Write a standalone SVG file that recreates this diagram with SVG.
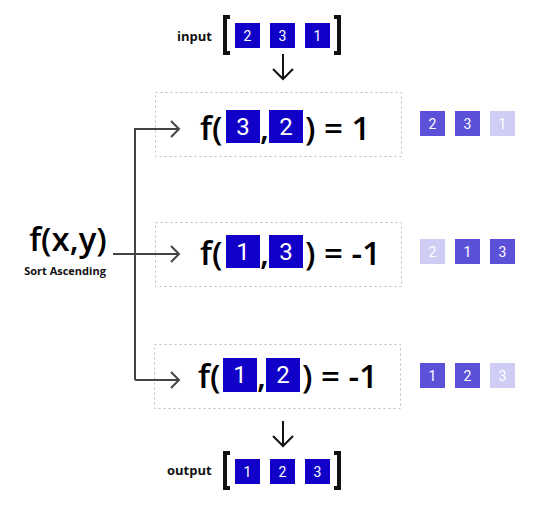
<svg xmlns="http://www.w3.org/2000/svg" width="535" height="510" viewBox="0 0 535 510">
<style>
.bg{fill:#ffffff}
.frame{fill:none;stroke:#bdbdbd;stroke-width:1;stroke-dasharray:2 3}
.b{fill:#1000c8}
.m{fill:#5b50d8}
.l{fill:#d0cdf4}
.bt{font-family:Roboto,"Liberation Sans",sans-serif;font-size:24px;fill:#ffffff;text-anchor:middle}
.st{font-family:Roboto,"Liberation Sans",sans-serif;font-size:14px;fill:#ffffff;text-anchor:middle}
.fx{font-family:"Open Sans","Noto Sans",sans-serif;font-weight:600;font-size:33px;fill:#000000}
.lab{font-family:"Open Sans","Noto Sans",sans-serif;font-weight:700;font-size:13px;fill:#111111}
.brk{fill:none;stroke:#111111;stroke-width:4}
.con{fill:none;stroke:#444444;stroke-width:2}
.dn{fill:none;stroke:#111111;stroke-width:2}
</style>
<rect class="bg" x="0" y="0" width="535" height="510"/>

<g id="input">
<text class="lab" x="177" y="41">input</text>
<path class="brk" d="M230,17 H225 V53 H230"/>
<path class="brk" d="M334,17 H339 V53 H334"/>
<rect class="b" x="235" y="23" width="25" height="25"/><text class="st" x="247.5" y="40.5">2</text>
<rect class="b" x="270" y="23" width="25" height="25"/><text class="st" x="282.5" y="40.5">3</text>
<rect class="b" x="305" y="23" width="25" height="25"/><text class="st" x="317.5" y="40.5">1</text>
</g>

<g id="fxy">
<text class="fx" x="68" y="251" text-anchor="middle">f(x,y)</text>
<text class="lab" x="65" y="275" text-anchor="middle" style="font-size:11px">Sort Ascending</text>
</g>

<g id="row1">
<rect class="frame" x="155.5" y="92.5" width="246" height="64"/>
<text class="fx" x="200" y="140">f(</text>
<rect class="b" x="226" y="110" width="34" height="33"/><text class="bt" x="243" y="135">3</text>
<text class="fx" x="260" y="140">,</text>
<rect class="b" x="269" y="110" width="34" height="33"/><text class="bt" x="286" y="135">2</text>
<text class="fx" x="305" y="140">) = 1</text>
<rect class="m" x="420" y="111" width="25" height="25"/><text class="st" x="432.5" y="128.5">2</text>
<rect class="m" x="455" y="111" width="25" height="25"/><text class="st" x="467.5" y="128.5">3</text>
<rect class="l" x="490" y="111" width="25" height="25"/><text class="st" x="502.5" y="128.5">1</text>
</g>

<g id="row2">
<rect class="frame" x="155.5" y="222.5" width="246" height="64"/>
<text class="fx" x="200" y="265">f(</text>
<rect class="b" x="226" y="235" width="34" height="33"/><text class="bt" x="243" y="260">1</text>
<text class="fx" x="260" y="265">,</text>
<rect class="b" x="269" y="235" width="34" height="33"/><text class="bt" x="286" y="260">3</text>
<text class="fx" x="305" y="265">) = -1</text>
<rect class="l" x="420" y="239" width="25" height="25"/><text class="st" x="432.5" y="256.5">2</text>
<rect class="m" x="455" y="239" width="25" height="25"/><text class="st" x="467.5" y="256.5">1</text>
<rect class="m" x="490" y="239" width="25" height="25"/><text class="st" x="502.5" y="256.5">3</text>
</g>

<g id="row3">
<rect class="frame" x="154.5" y="344.5" width="246" height="64"/>
<text class="fx" x="198" y="388">f(</text>
<rect class="b" x="223" y="358" width="34" height="34"/><text class="bt" x="240" y="383">1</text>
<text class="fx" x="257" y="388">,</text>
<rect class="b" x="266" y="358" width="34" height="34"/><text class="bt" x="283" y="383">2</text>
<text class="fx" x="302" y="388">) = -1</text>
<rect class="m" x="420" y="363" width="25" height="25"/><text class="st" x="432.5" y="380.5">1</text>
<rect class="m" x="455" y="363" width="25" height="25"/><text class="st" x="467.5" y="380.5">2</text>
<rect class="l" x="490" y="363" width="25" height="25"/><text class="st" x="502.5" y="380.5">3</text>
</g>

<g id="output">
<text class="lab" x="167" y="475">output</text>
<path class="brk" d="M230,453 H225 V488 H230"/>
<path class="brk" d="M334,453 H339 V488 H334"/>
<rect class="b" x="235" y="459" width="25" height="25"/><text class="st" x="247.5" y="476.5">1</text>
<rect class="b" x="270" y="459" width="25" height="25"/><text class="st" x="282.5" y="476.5">2</text>
<rect class="b" x="305" y="459" width="25" height="25"/><text class="st" x="317.5" y="476.5">3</text>
</g>

<g id="connectors">
<path class="dn" d="M283,54 V79 M273,69 L283,79 L293,69"/>
<path class="dn" d="M283,421 V446 M273,436 L283,446 L293,436"/>
<path class="con" d="M135,380 V129 H179 M171,121 L179,129 L171,137"/>
<path class="con" d="M113,254 H179 M171,246 L179,254 L171,262"/>
<path class="con" d="M135,380 H179 M171,372 L179,380 L171,388"/>
</g>
</svg>
